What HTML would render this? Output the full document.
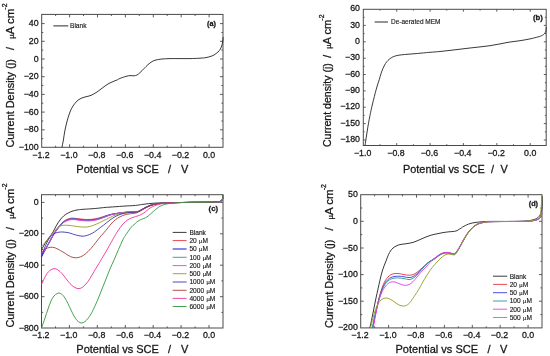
<!DOCTYPE html>
<html><head><meta charset="utf-8"><title>Figure</title>
<style>html,body{margin:0;padding:0;background:#fff;overflow:hidden}svg{display:block}</style></head>
<body>
<svg width="550" height="356" viewBox="0 0 550 356">
<style>text{font-family:"Liberation Sans",sans-serif;stroke:#222;stroke-width:0.28px;paint-order:stroke}.lg{stroke-width:0.14px}</style>
<g stroke="#4a4a4a" stroke-width="1" fill="none">
<rect x="41.7" y="14.4" width="181.3" height="132.9"/>
<path d="M69.6,147.3 L69.6,144.3M69.6,14.4 L69.6,17.4M97.5,147.3 L97.5,144.3M97.5,14.4 L97.5,17.4M125.4,147.3 L125.4,144.3M125.4,14.4 L125.4,17.4M153.3,147.3 L153.3,144.3M153.3,14.4 L153.3,17.4M181.2,147.3 L181.2,144.3M181.2,14.4 L181.2,17.4M209.1,147.3 L209.1,144.3M209.1,14.4 L209.1,17.4M55.6,147.3 L55.6,145.7M55.6,14.4 L55.6,16.0M83.5,147.3 L83.5,145.7M83.5,14.4 L83.5,16.0M111.4,147.3 L111.4,145.7M111.4,14.4 L111.4,16.0M139.3,147.3 L139.3,145.7M139.3,14.4 L139.3,16.0M167.2,147.3 L167.2,145.7M167.2,14.4 L167.2,16.0M195.1,147.3 L195.1,145.7M195.1,14.4 L195.1,16.0M41.7,23.6 L44.7,23.6M223.0,23.6 L220.0,23.6M41.7,41.3 L44.7,41.3M223.0,41.3 L220.0,41.3M41.7,59.0 L44.7,59.0M223.0,59.0 L220.0,59.0M41.7,76.7 L44.7,76.7M223.0,76.7 L220.0,76.7M41.7,94.4 L44.7,94.4M223.0,94.4 L220.0,94.4M41.7,112.1 L44.7,112.1M223.0,112.1 L220.0,112.1M41.7,129.8 L44.7,129.8M223.0,129.8 L220.0,129.8M41.7,32.5 L43.3,32.5M223.0,32.5 L221.4,32.5M41.7,50.1 L43.3,50.1M223.0,50.1 L221.4,50.1M41.7,67.8 L43.3,67.8M223.0,67.8 L221.4,67.8M41.7,85.5 L43.3,85.5M223.0,85.5 L221.4,85.5M41.7,103.2 L43.3,103.2M223.0,103.2 L221.4,103.2M41.7,121.0 L43.3,121.0M223.0,121.0 L221.4,121.0M41.7,138.7 L43.3,138.7M223.0,138.7 L221.4,138.7" stroke-width="0.9"/>
</g>
<g font-size="8.8" fill="#161616" text-anchor="middle">
<text x="41.0" y="157.6">−1.2</text>
<text x="68.9" y="157.6">−1.0</text>
<text x="96.8" y="157.6">−0.8</text>
<text x="124.7" y="157.6">−0.6</text>
<text x="152.6" y="157.6">−0.4</text>
<text x="180.5" y="157.6">−0.2</text>
<text x="209.1" y="157.6">0.0</text>
</g>
<g font-size="8.8" fill="#161616" text-anchor="end">
<text x="38.6" y="26.1">40</text>
<text x="38.6" y="43.8">20</text>
<text x="38.6" y="61.5">0</text>
<text x="38.6" y="79.2">−20</text>
<text x="38.6" y="96.9">−40</text>
<text x="38.6" y="114.6">−60</text>
<text x="38.6" y="132.3">−80</text>
<text x="38.6" y="150.0">−100</text>
</g>
<path d="M62.0,147.3C62.2,146.1 62.9,142.9 63.4,140.0C63.9,137.1 64.3,133.3 65.0,130.0C65.7,126.7 66.6,123.0 67.4,120.0C68.2,117.0 69.1,114.3 70.0,112.0C70.9,109.7 71.8,107.8 73.0,106.0C74.2,104.2 75.7,102.3 77.0,101.0C78.3,99.7 79.7,99.1 81.0,98.4C82.3,97.7 83.7,97.4 85.0,97.0C86.3,96.6 87.7,96.4 89.0,96.0C90.3,95.6 91.7,95.1 93.0,94.4C94.3,93.7 95.7,92.9 97.0,92.0C98.3,91.1 99.7,90.0 101.0,89.0C102.3,88.0 103.7,86.9 105.0,86.0C106.3,85.1 107.7,84.1 109.0,83.4C110.3,82.7 111.7,82.2 113.0,81.6C114.3,81.0 115.8,80.5 117.0,80.0C118.2,79.5 118.5,79.0 120.0,78.4C121.5,77.8 124.3,76.9 126.0,76.4C127.7,75.9 128.7,75.7 130.0,75.6C131.3,75.5 132.8,75.9 134.0,75.8C135.2,75.7 136.0,75.5 137.0,75.0C138.0,74.5 138.8,73.7 140.0,72.6C141.2,71.5 142.7,69.9 144.0,68.6C145.3,67.3 146.7,65.8 148.0,64.6C149.3,63.4 150.7,62.4 152.0,61.6C153.3,60.8 154.3,60.4 156.0,60.0C157.7,59.6 159.7,59.2 162.0,59.0C164.3,58.8 167.0,58.7 170.0,58.6C173.0,58.5 176.7,58.6 180.0,58.6C183.3,58.6 186.7,58.7 190.0,58.6C193.3,58.5 197.3,58.4 200.0,58.2C202.7,58.0 204.3,57.9 206.0,57.6C207.7,57.3 208.7,57.0 210.0,56.6C211.3,56.2 212.7,55.8 214.0,55.0C215.3,54.2 216.9,53.0 218.0,52.0C219.1,51.0 219.7,50.2 220.4,49.0C221.1,47.8 221.6,46.3 222.0,45.0C222.4,43.7 222.6,42.3 222.8,41.0C223.0,39.7 223.0,37.7 223.0,37.0" stroke="#222" stroke-width="0.90" fill="none" stroke-linejoin="round"/>
<path d="M53.4,25.9 H68.3" stroke="#2a2a2a" stroke-width="1"/>
<text x="70" y="27.9" font-size="6.6" class="lg" fill="#161616">Blank</text>
<text x="211.5" y="26.4" font-size="7.3" font-weight="bold" fill="#161616" text-anchor="middle">(a)</text>
<g font-size="11.0" fill="#161616">
<text x="76.3" y="172.6">Potential vs SCE</text>
<text x="169.6" y="172.6" text-anchor="middle">/</text>
<text x="181.0" y="172.6">V</text>
</g>
<g font-size="10.9" fill="#161616">
<text transform="translate(14.0,147.6) rotate(-90)">Current Density (j)</text>
<text transform="translate(14.0,48.6) rotate(-90)" text-anchor="middle">/</text>
<text transform="translate(14.0,38.8) rotate(-90)"><tspan font-size="7.8">µ</tspan><tspan font-size="11.5">A cm</tspan><tspan font-size="7" dy="-6.8" dx="-0.9">-2</tspan></text>
</g>
<g stroke="#4a4a4a" stroke-width="1" fill="none">
<rect x="363.3" y="9.3" width="182.9" height="136.2"/>
<path d="M396.7,145.5 L396.7,143.1M396.7,9.3 L396.7,11.7M430.1,145.5 L430.1,143.1M430.1,9.3 L430.1,11.7M463.4,145.5 L463.4,143.1M463.4,9.3 L463.4,11.7M496.8,145.5 L496.8,143.1M496.8,9.3 L496.8,11.7M530.2,145.5 L530.2,143.1M530.2,9.3 L530.2,11.7M380.0,145.5 L380.0,144.2M380.0,9.3 L380.0,10.6M413.4,145.5 L413.4,144.2M413.4,9.3 L413.4,10.6M446.8,145.5 L446.8,144.2M446.8,9.3 L446.8,10.6M480.1,145.5 L480.1,144.2M480.1,9.3 L480.1,10.6M513.5,145.5 L513.5,144.2M513.5,9.3 L513.5,10.6M363.3,25.4 L365.7,25.4M546.2,25.4 L543.8,25.4M363.3,41.8 L365.7,41.8M546.2,41.8 L543.8,41.8M363.3,58.2 L365.7,58.2M546.2,58.2 L543.8,58.2M363.3,74.5 L365.7,74.5M546.2,74.5 L543.8,74.5M363.3,90.9 L365.7,90.9M546.2,90.9 L543.8,90.9M363.3,107.2 L365.7,107.2M546.2,107.2 L543.8,107.2M363.3,123.6 L365.7,123.6M546.2,123.6 L543.8,123.6M363.3,140.0 L365.7,140.0M546.2,140.0 L543.8,140.0M363.3,17.3 L364.6,17.3M546.2,17.3 L544.9,17.3M363.3,33.6 L364.6,33.6M546.2,33.6 L544.9,33.6M363.3,50.0 L364.6,50.0M546.2,50.0 L544.9,50.0M363.3,66.3 L364.6,66.3M546.2,66.3 L544.9,66.3M363.3,82.7 L364.6,82.7M546.2,82.7 L544.9,82.7M363.3,99.1 L364.6,99.1M546.2,99.1 L544.9,99.1M363.3,115.4 L364.6,115.4M546.2,115.4 L544.9,115.4M363.3,131.8 L364.6,131.8M546.2,131.8 L544.9,131.8" stroke-width="0.9"/>
</g>
<g font-size="8.8" fill="#161616" text-anchor="middle">
<text x="362.6" y="155.9">−1.0</text>
<text x="396.0" y="155.9">−0.8</text>
<text x="429.4" y="155.9">−0.6</text>
<text x="462.7" y="155.9">−0.4</text>
<text x="496.1" y="155.9">−0.2</text>
<text x="530.2" y="155.9">0.0</text>
</g>
<g font-size="8.8" fill="#161616" text-anchor="end">
<text x="360.0" y="11.2">60</text>
<text x="360.0" y="27.5">30</text>
<text x="360.0" y="43.9">0</text>
<text x="360.0" y="60.3">−30</text>
<text x="360.0" y="76.6">−60</text>
<text x="360.0" y="93.0">−90</text>
<text x="360.0" y="109.3">−120</text>
<text x="360.0" y="125.7">−150</text>
<text x="360.0" y="142.1">−180</text>
</g>
<path d="M365.0,145.5C365.3,143.8 366.1,138.4 366.6,135.0C367.1,131.6 367.6,128.4 368.2,125.0C368.8,121.6 369.6,117.3 370.2,114.4C370.8,111.5 371.2,109.7 371.7,107.4C372.2,105.1 372.8,102.9 373.4,100.4C374.0,98.0 374.7,95.1 375.3,92.7C375.9,90.3 376.6,88.2 377.2,86.0C377.8,83.8 378.6,81.8 379.2,79.8C379.8,77.8 380.4,75.6 381.0,73.7C381.6,71.8 382.1,70.3 382.9,68.6C383.6,66.9 384.6,64.9 385.5,63.5C386.4,62.1 387.1,61.4 388.0,60.4C388.9,59.4 390.1,58.5 391.2,57.8C392.3,57.1 393.2,56.7 394.4,56.3C395.6,55.9 396.5,55.6 398.2,55.3C399.9,55.0 402.4,54.7 404.5,54.5C406.6,54.3 408.8,54.2 410.9,54.0C413.0,53.8 415.2,53.7 417.3,53.5C419.4,53.3 421.5,53.1 423.6,52.9C425.7,52.7 427.3,52.5 430.0,52.3C432.7,52.1 436.7,51.8 440.0,51.5C443.3,51.2 446.7,50.8 450.0,50.4C453.3,50.0 456.7,49.6 460.0,49.2C463.3,48.8 466.7,48.4 470.0,48.0C473.3,47.6 476.7,47.3 480.0,46.9C483.3,46.5 486.7,46.2 490.0,45.7C493.3,45.2 496.7,44.5 500.0,43.9C503.3,43.3 506.7,42.5 510.0,42.0C513.3,41.5 516.7,41.2 520.0,40.7C523.3,40.2 527.0,39.5 530.0,38.9C533.0,38.3 536.1,37.4 538.0,36.9C539.9,36.4 540.5,36.2 541.4,35.8C542.3,35.4 543.0,35.0 543.6,34.5C544.2,34.0 544.7,33.5 545.1,32.8C545.5,32.1 545.8,31.4 546.0,30.4C546.2,29.4 546.2,27.6 546.3,27.0" stroke="#222" stroke-width="0.90" fill="none" stroke-linejoin="round"/>
<path d="M374.6,22 H388" stroke="#2a2a2a" stroke-width="1"/>
<text x="391" y="24.3" font-size="6.5" class="lg" fill="#161616">De-aerated MEM</text>
<text x="538" y="20.2" font-size="7.8" font-weight="bold" fill="#161616" text-anchor="middle">(b)</text>
<g stroke="#4a4a4a" stroke-width="1" fill="none">
<rect x="41.5" y="194.7" width="181.5" height="133.3"/>
<path d="M69.4,328.0 L69.4,325.0M69.4,194.7 L69.4,197.7M97.3,328.0 L97.3,325.0M97.3,194.7 L97.3,197.7M125.3,328.0 L125.3,325.0M125.3,194.7 L125.3,197.7M153.2,328.0 L153.2,325.0M153.2,194.7 L153.2,197.7M181.1,328.0 L181.1,325.0M181.1,194.7 L181.1,197.7M209.0,328.0 L209.0,325.0M209.0,194.7 L209.0,197.7M55.5,328.0 L55.5,326.4M55.5,194.7 L55.5,196.3M83.4,328.0 L83.4,326.4M83.4,194.7 L83.4,196.3M111.3,328.0 L111.3,326.4M111.3,194.7 L111.3,196.3M139.2,328.0 L139.2,326.4M139.2,194.7 L139.2,196.3M167.2,328.0 L167.2,326.4M167.2,194.7 L167.2,196.3M195.1,328.0 L195.1,326.4M195.1,194.7 L195.1,196.3M41.5,202.4 L44.5,202.4M223.0,202.4 L220.0,202.4M41.5,233.8 L44.5,233.8M223.0,233.8 L220.0,233.8M41.5,265.2 L44.5,265.2M223.0,265.2 L220.0,265.2M41.5,296.7 L44.5,296.7M223.0,296.7 L220.0,296.7M41.5,218.1 L43.1,218.1M223.0,218.1 L221.4,218.1M41.5,249.5 L43.1,249.5M223.0,249.5 L221.4,249.5M41.5,280.9 L43.1,280.9M223.0,280.9 L221.4,280.9M41.5,312.4 L43.1,312.4M223.0,312.4 L221.4,312.4" stroke-width="0.9"/>
</g>
<g font-size="8.8" fill="#161616" text-anchor="middle">
<text x="40.8" y="337.7">−1.2</text>
<text x="68.7" y="337.7">−1.0</text>
<text x="96.6" y="337.7">−0.8</text>
<text x="124.6" y="337.7">−0.6</text>
<text x="152.5" y="337.7">−0.4</text>
<text x="180.4" y="337.7">−0.2</text>
<text x="209.0" y="337.7">0.0</text>
</g>
<g font-size="8.8" fill="#161616" text-anchor="end">
<text x="38.6" y="204.9">0</text>
<text x="38.6" y="236.3">−200</text>
<text x="38.6" y="267.7">−400</text>
<text x="38.6" y="299.2">−600</text>
<text x="38.6" y="330.6">−800</text>
</g>
<g stroke="#4a4a4a" stroke-width="1" fill="none">
<rect x="360.7" y="194.7" width="181.3" height="133.2"/>
<path d="M388.6,327.9 L388.6,324.9M388.6,194.7 L388.6,197.7M416.5,327.9 L416.5,324.9M416.5,194.7 L416.5,197.7M444.4,327.9 L444.4,324.9M444.4,194.7 L444.4,197.7M472.3,327.9 L472.3,324.9M472.3,194.7 L472.3,197.7M500.2,327.9 L500.2,324.9M500.2,194.7 L500.2,197.7M528.1,327.9 L528.1,324.9M528.1,194.7 L528.1,197.7M374.6,327.9 L374.6,326.3M374.6,194.7 L374.6,196.3M402.5,327.9 L402.5,326.3M402.5,194.7 L402.5,196.3M430.4,327.9 L430.4,326.3M430.4,194.7 L430.4,196.3M458.3,327.9 L458.3,326.3M458.3,194.7 L458.3,196.3M486.2,327.9 L486.2,326.3M486.2,194.7 L486.2,196.3M514.1,327.9 L514.1,326.3M514.1,194.7 L514.1,196.3M360.7,221.3 L363.7,221.3M542.0,221.3 L539.0,221.3M360.7,248.0 L363.7,248.0M542.0,248.0 L539.0,248.0M360.7,274.6 L363.7,274.6M542.0,274.6 L539.0,274.6M360.7,301.2 L363.7,301.2M542.0,301.2 L539.0,301.2M360.7,208.0 L362.3,208.0M542.0,208.0 L540.4,208.0M360.7,234.6 L362.3,234.6M542.0,234.6 L540.4,234.6M360.7,261.3 L362.3,261.3M542.0,261.3 L540.4,261.3M360.7,287.9 L362.3,287.9M542.0,287.9 L540.4,287.9M360.7,314.6 L362.3,314.6M542.0,314.6 L540.4,314.6" stroke-width="0.9"/>
</g>
<g font-size="8.8" fill="#161616" text-anchor="middle">
<text x="360.0" y="337.8">−1.2</text>
<text x="387.9" y="337.8">−1.0</text>
<text x="415.8" y="337.8">−0.8</text>
<text x="443.7" y="337.8">−0.6</text>
<text x="471.6" y="337.8">−0.4</text>
<text x="499.5" y="337.8">−0.2</text>
<text x="528.1" y="337.8">0.0</text>
</g>
<g font-size="8.8" fill="#161616" text-anchor="end">
<text x="357.8" y="197.2">50</text>
<text x="357.8" y="223.8">0</text>
<text x="357.8" y="250.5">−50</text>
<text x="357.8" y="277.1">−100</text>
<text x="357.8" y="303.8">−150</text>
<text x="357.8" y="330.4">−200</text>
</g>
<path d="M41.6,249.5C42.2,248.5 43.8,245.5 45.0,243.5C46.2,241.5 47.7,239.6 49.0,237.7C50.3,235.8 51.8,234.0 53.0,232.0C54.2,230.0 55.1,227.9 56.2,225.9C57.4,223.9 58.7,221.7 59.9,220.1C61.1,218.5 62.3,217.2 63.5,216.1C64.7,215.0 66.0,214.2 67.2,213.5C68.4,212.8 69.6,212.2 70.8,211.7C72.0,211.2 73.3,210.8 74.5,210.5C75.7,210.2 76.8,210.0 78.0,209.8C79.2,209.6 79.8,209.6 82.0,209.4C84.2,209.2 88.4,209.0 90.9,208.8C93.5,208.6 95.2,208.5 97.3,208.3C99.4,208.1 101.5,207.8 103.6,207.6C105.7,207.4 106.8,207.3 110.0,207.1C113.2,206.9 118.5,206.5 122.7,206.2C127.0,205.9 132.3,205.7 135.5,205.4C138.7,205.1 139.7,204.8 141.8,204.5C143.9,204.2 146.1,203.9 148.2,203.7C150.3,203.5 152.4,203.2 154.5,203.1C156.6,203.0 157.5,203.0 160.9,202.9C164.3,202.8 170.2,202.7 175.0,202.6C179.8,202.5 184.2,202.5 190.0,202.4C195.8,202.3 205.5,202.3 210.0,202.2C214.5,202.1 215.3,202.1 217.0,202.0C218.7,201.9 219.2,201.8 220.0,201.5C220.8,201.2 221.3,200.9 221.7,200.5C222.1,200.1 222.4,199.7 222.6,198.8C222.8,197.9 222.9,195.6 223.0,195.0" stroke="#222222" stroke-width="0.90" fill="none" stroke-linejoin="round"/>
<path d="M41.5,256.0C42.1,255.0 43.8,252.2 45.0,250.0C46.2,247.8 47.7,245.2 49.0,242.8C50.3,240.4 51.7,237.8 53.0,235.5C54.3,233.2 55.8,231.0 57.0,229.3C58.2,227.6 58.9,226.8 60.0,225.5C61.1,224.2 62.3,222.7 63.5,221.6C64.7,220.6 65.8,219.9 67.2,219.3C68.6,218.7 70.0,218.2 71.8,218.1C73.6,218.0 76.1,218.5 78.2,218.7C80.3,218.9 82.4,219.3 84.5,219.4C86.6,219.5 88.8,219.6 90.9,219.4C93.0,219.2 95.2,218.9 97.3,218.4C99.4,217.9 101.5,217.2 103.6,216.6C105.7,216.0 107.9,215.1 110.0,214.6C112.1,214.1 114.3,213.8 116.4,213.5C118.5,213.2 120.6,212.8 122.7,212.6C124.8,212.3 126.9,212.1 129.0,212.0C131.1,211.9 133.9,212.0 135.5,211.9C137.1,211.8 137.5,211.7 138.6,211.3C139.7,210.9 140.7,210.2 141.8,209.6C142.9,209.0 143.9,208.3 145.0,207.7C146.1,207.1 147.0,206.7 148.2,206.2C149.4,205.7 150.7,205.2 152.0,204.8C153.3,204.4 154.3,204.2 155.8,203.9C157.3,203.7 159.0,203.5 160.9,203.3C162.8,203.1 165.0,203.0 167.3,202.9C169.7,202.8 171.2,202.7 175.0,202.6C178.8,202.5 184.2,202.5 190.0,202.4C195.8,202.3 205.5,202.3 210.0,202.2C214.5,202.1 215.3,202.1 217.0,202.0C218.7,201.9 219.2,201.8 220.0,201.5C220.8,201.2 221.3,200.9 221.7,200.5C222.1,200.1 222.4,199.4 222.6,198.8C222.8,198.2 222.9,197.3 223.0,197.0" stroke="#e8323c" stroke-width="0.90" fill="none" stroke-linejoin="round"/>
<path d="M41.5,257.0C42.1,255.8 43.8,252.4 45.0,250.0C46.2,247.6 47.7,245.2 49.0,242.8C50.3,240.4 51.7,237.8 53.0,235.5C54.3,233.2 55.8,230.9 57.0,229.3C58.2,227.7 58.9,226.9 60.0,225.7C61.1,224.5 62.3,222.9 63.5,222.0C64.7,221.0 65.8,220.4 67.2,219.9C68.6,219.4 70.0,218.8 71.8,218.7C73.6,218.6 76.1,219.1 78.2,219.3C80.3,219.5 82.4,219.9 84.5,220.0C86.6,220.1 88.8,220.2 90.9,220.0C93.0,219.8 95.2,219.5 97.3,219.0C99.4,218.5 101.5,217.7 103.6,217.0C105.7,216.3 107.9,215.4 110.0,214.8C112.1,214.2 114.3,213.9 116.4,213.5C118.5,213.1 120.6,212.8 122.7,212.6C124.8,212.3 126.9,212.1 129.0,212.0C131.1,211.9 133.9,212.0 135.5,211.9C137.1,211.8 137.5,211.7 138.6,211.3C139.7,210.9 140.7,210.2 141.8,209.6C142.9,209.0 143.9,208.3 145.0,207.7C146.1,207.1 147.0,206.7 148.2,206.2C149.4,205.7 150.7,205.2 152.0,204.8C153.3,204.4 154.3,204.2 155.8,203.9C157.3,203.7 159.0,203.5 160.9,203.3C162.8,203.1 165.0,203.0 167.3,202.9C169.7,202.8 171.2,202.7 175.0,202.6C178.8,202.5 184.2,202.5 190.0,202.4C195.8,202.3 205.5,202.3 210.0,202.2C214.5,202.1 215.3,202.1 217.0,202.0C218.7,201.9 219.2,201.8 220.0,201.5C220.8,201.2 221.3,200.9 221.7,200.5C222.1,200.1 222.4,199.4 222.6,198.8C222.8,198.2 222.9,197.3 223.0,197.0" stroke="#3a3ae0" stroke-width="1.10" fill="none" stroke-linejoin="round"/>
<path d="M41.5,255.0C42.1,254.2 43.8,252.0 45.0,250.0C46.2,248.0 47.7,245.2 49.0,242.8C50.3,240.4 51.7,237.8 53.0,235.5C54.3,233.2 55.8,230.9 57.0,229.3C58.2,227.7 58.9,227.0 60.0,225.8C61.1,224.6 62.3,223.1 63.5,222.2C64.7,221.3 65.8,220.8 67.2,220.3C68.6,219.8 70.0,219.2 71.8,219.1C73.6,219.0 76.1,219.5 78.2,219.7C80.3,219.9 82.4,220.3 84.5,220.4C86.6,220.5 88.8,220.6 90.9,220.4C93.0,220.2 95.2,219.9 97.3,219.4C99.4,218.9 101.5,218.0 103.6,217.3C105.7,216.6 107.9,215.6 110.0,215.0C112.1,214.3 114.3,213.9 116.4,213.5C118.5,213.1 120.6,212.8 122.7,212.6C124.8,212.3 126.9,212.1 129.0,212.0C131.1,211.9 133.9,212.0 135.5,211.9C137.1,211.8 137.5,211.7 138.6,211.3C139.7,210.9 140.7,210.2 141.8,209.6C142.9,209.0 143.9,208.3 145.0,207.7C146.1,207.1 147.0,206.7 148.2,206.2C149.4,205.7 150.7,205.2 152.0,204.8C153.3,204.4 154.3,204.2 155.8,203.9C157.3,203.7 159.0,203.5 160.9,203.3C162.8,203.1 165.0,203.0 167.3,202.9C169.7,202.8 171.2,202.7 175.0,202.6C178.8,202.5 184.2,202.5 190.0,202.4C195.8,202.3 205.5,202.3 210.0,202.2C214.5,202.1 215.3,202.1 217.0,202.0C218.7,201.9 219.2,201.8 220.0,201.5C220.8,201.2 221.3,200.9 221.7,200.5C222.1,200.1 222.4,199.4 222.6,198.8C222.8,198.2 222.9,197.3 223.0,197.0" stroke="#2a9696" stroke-width="0.90" fill="none" stroke-linejoin="round"/>
<path d="M41.5,253.0C42.1,252.5 43.8,251.7 45.0,250.0C46.2,248.3 47.7,245.2 49.0,242.8C50.3,240.4 51.7,237.8 53.0,235.5C54.3,233.2 55.8,230.9 57.0,229.3C58.2,227.7 58.9,227.1 60.0,225.9C61.1,224.8 62.3,223.3 63.5,222.5C64.7,221.6 65.8,221.2 67.2,220.7C68.6,220.2 70.0,219.6 71.8,219.5C73.6,219.4 76.1,219.9 78.2,220.1C80.3,220.3 82.4,220.7 84.5,220.8C86.6,220.9 88.8,221.0 90.9,220.8C93.0,220.6 95.2,220.3 97.3,219.8C99.4,219.3 101.5,218.3 103.6,217.6C105.7,216.8 107.9,215.8 110.0,215.1C112.1,214.5 114.3,213.9 116.4,213.5C118.5,213.1 120.6,212.8 122.7,212.6C124.8,212.3 126.9,212.1 129.0,212.0C131.1,211.9 133.9,212.0 135.5,211.9C137.1,211.8 137.5,211.7 138.6,211.3C139.7,210.9 140.7,210.2 141.8,209.6C142.9,209.0 143.9,208.3 145.0,207.7C146.1,207.1 147.0,206.7 148.2,206.2C149.4,205.7 150.7,205.2 152.0,204.8C153.3,204.4 154.3,204.2 155.8,203.9C157.3,203.7 159.0,203.5 160.9,203.3C162.8,203.1 165.0,203.0 167.3,202.9C169.7,202.8 171.2,202.7 175.0,202.6C178.8,202.5 184.2,202.5 190.0,202.4C195.8,202.3 205.5,202.3 210.0,202.2C214.5,202.1 215.3,202.1 217.0,202.0C218.7,201.9 219.2,201.8 220.0,201.5C220.8,201.2 221.3,200.9 221.7,200.5C222.1,200.1 222.4,199.4 222.6,198.8C222.8,198.2 222.9,197.3 223.0,197.0" stroke="#e83ce8" stroke-width="0.90" fill="none" stroke-linejoin="round"/>
<path d="M41.5,246.6C42.1,245.9 43.8,244.0 45.0,242.5C46.2,241.0 47.8,238.9 49.0,237.5C50.2,236.1 51.0,235.0 52.0,233.8C53.0,232.6 54.1,231.4 55.3,230.2C56.5,229.0 57.8,227.4 59.1,226.6C60.4,225.8 61.4,225.5 62.9,225.3C64.4,225.1 66.1,225.2 68.0,225.3C69.9,225.4 72.3,225.8 74.4,226.1C76.5,226.4 78.6,226.8 80.7,226.9C82.8,227.1 85.0,227.3 87.1,227.0C89.2,226.7 91.4,226.1 93.5,225.3C95.6,224.6 97.7,223.5 99.8,222.5C101.9,221.5 104.5,220.2 106.2,219.4C107.9,218.6 108.4,218.3 110.0,217.5C111.6,216.7 114.0,215.5 116.0,214.8C118.0,214.1 119.8,213.6 122.0,213.2C124.2,212.8 126.8,212.5 129.0,212.3C131.2,212.1 133.9,212.2 135.5,212.0C137.1,211.8 137.5,211.8 138.6,211.4C139.7,211.0 140.7,210.3 141.8,209.7C142.9,209.1 143.9,208.4 145.0,207.8C146.1,207.2 147.0,206.8 148.2,206.3C149.4,205.8 150.7,205.3 152.0,204.9C153.3,204.5 154.3,204.3 155.8,204.0C157.3,203.7 159.0,203.5 160.9,203.3C162.8,203.1 165.0,203.0 167.3,202.9C169.7,202.8 171.2,202.7 175.0,202.6C178.8,202.5 184.2,202.5 190.0,202.4C195.8,202.3 205.5,202.3 210.0,202.2C214.5,202.1 215.3,202.1 217.0,202.0C218.7,201.9 219.2,201.8 220.0,201.5C220.8,201.2 221.3,200.9 221.7,200.5C222.1,200.1 222.4,199.4 222.6,198.8C222.8,198.2 222.9,197.3 223.0,197.0" stroke="#9a9a28" stroke-width="0.90" fill="none" stroke-linejoin="round"/>
<path d="M41.3,256.8C41.9,255.1 43.8,249.6 45.1,246.6C46.4,243.6 47.6,241.0 48.9,239.0C50.2,237.0 51.2,235.6 52.7,234.5C54.2,233.4 56.1,232.8 57.8,232.4C59.5,232.0 61.0,231.9 62.9,232.0C64.8,232.1 67.2,232.4 69.3,232.9C71.4,233.4 73.5,234.4 75.6,234.9C77.7,235.4 80.1,236.1 82.0,236.2C83.9,236.3 85.4,235.9 87.1,235.4C88.8,234.9 90.5,234.2 92.2,233.3C93.9,232.4 95.4,231.2 97.3,229.8C99.2,228.4 101.5,226.7 103.6,225.1C105.7,223.5 107.9,221.5 110.0,220.0C112.1,218.5 114.0,217.2 116.0,216.2C118.0,215.2 119.8,214.5 122.0,213.9C124.2,213.3 126.8,212.9 129.0,212.6C131.2,212.3 133.9,212.3 135.5,212.1C137.1,211.9 137.5,211.9 138.6,211.5C139.7,211.1 140.7,210.4 141.8,209.8C142.9,209.2 143.9,208.5 145.0,207.9C146.1,207.3 147.0,206.9 148.2,206.4C149.4,205.9 150.7,205.4 152.0,205.0C153.3,204.6 154.3,204.3 155.8,204.0C157.3,203.7 159.0,203.5 160.9,203.3C162.8,203.1 165.0,203.0 167.3,202.9C169.7,202.8 171.2,202.7 175.0,202.6C178.8,202.5 184.2,202.5 190.0,202.4C195.8,202.3 205.5,202.3 210.0,202.2C214.5,202.1 215.3,202.1 217.0,202.0C218.7,201.9 219.2,201.8 220.0,201.5C220.8,201.2 221.3,200.9 221.7,200.5C222.1,200.1 222.4,199.4 222.6,198.8C222.8,198.2 222.9,197.3 223.0,197.0" stroke="#3838b0" stroke-width="0.90" fill="none" stroke-linejoin="round"/>
<path d="M41.3,252.4C41.9,251.9 43.6,250.0 45.1,249.2C46.6,248.3 48.5,247.5 50.2,247.3C51.9,247.1 53.6,247.4 55.3,247.9C57.0,248.4 58.7,249.6 60.4,250.5C62.1,251.4 63.8,252.6 65.5,253.6C67.2,254.6 68.8,255.9 70.5,256.6C72.2,257.3 73.9,257.8 75.6,257.8C77.3,257.8 79.0,257.5 80.7,256.8C82.4,256.1 84.1,255.0 85.8,253.6C87.5,252.2 89.2,250.4 90.9,248.5C92.6,246.6 94.3,244.3 96.0,242.2C97.7,240.1 99.4,237.8 101.1,235.8C102.8,233.8 104.7,231.9 106.2,230.1C107.7,228.3 108.7,226.7 110.0,225.2C111.3,223.7 112.5,222.3 113.8,221.1C115.1,219.9 116.1,219.1 117.6,218.2C119.1,217.3 121.0,216.3 122.7,215.6C124.4,214.9 126.1,214.4 127.8,214.1C129.5,213.8 131.4,213.7 132.9,213.5C134.4,213.3 135.4,213.2 136.7,212.8C138.0,212.4 139.2,211.6 140.5,210.9C141.8,210.2 143.1,209.4 144.4,208.7C145.7,208.0 146.9,207.3 148.2,206.7C149.5,206.1 150.7,205.6 152.0,205.2C153.3,204.8 154.3,204.5 155.8,204.2C157.3,203.9 159.0,203.6 160.9,203.4C162.8,203.2 165.0,203.0 167.3,202.9C169.7,202.8 171.2,202.7 175.0,202.6C178.8,202.5 184.2,202.5 190.0,202.4C195.8,202.3 205.5,202.3 210.0,202.2C214.5,202.1 215.3,202.1 217.0,202.0C218.7,201.9 219.2,201.8 220.0,201.5C220.8,201.2 221.3,200.9 221.7,200.5C222.1,200.1 222.4,199.4 222.6,198.8C222.8,198.2 222.9,197.3 223.0,197.0" stroke="#a83c3c" stroke-width="0.90" fill="none" stroke-linejoin="round"/>
<path d="M41.6,284.4C42.0,283.5 43.1,280.8 44.0,279.0C44.9,277.2 46.0,275.0 47.0,273.6C48.0,272.2 48.8,271.2 50.0,270.4C51.2,269.6 52.7,268.7 54.0,268.6C55.3,268.5 56.7,269.2 58.0,270.0C59.3,270.8 60.7,272.2 62.0,273.6C63.3,275.0 64.7,276.9 66.0,278.6C67.3,280.3 68.7,282.2 70.0,283.6C71.3,285.0 72.7,286.2 74.0,287.0C75.3,287.8 76.7,288.5 78.0,288.6C79.3,288.7 80.7,288.4 82.0,287.6C83.3,286.8 84.7,285.5 86.0,284.0C87.3,282.5 88.7,280.5 90.0,278.4C91.3,276.3 92.7,273.8 94.0,271.6C95.3,269.4 96.8,266.9 98.0,265.0C99.2,263.1 99.7,262.2 101.0,260.0C102.3,257.8 104.1,254.8 106.0,251.5C107.9,248.2 110.8,243.1 112.5,240.0C114.2,236.9 115.1,235.3 116.4,233.2C117.7,231.1 118.9,229.2 120.2,227.5C121.5,225.8 122.7,224.3 124.0,223.0C125.3,221.7 126.5,220.7 127.8,219.8C129.1,219.0 130.3,218.4 131.6,217.9C132.9,217.4 134.2,217.0 135.5,216.6C136.8,216.2 138.0,215.9 139.3,215.4C140.6,214.9 141.8,214.3 143.1,213.5C144.4,212.7 145.6,211.5 146.9,210.5C148.2,209.5 149.4,208.5 150.7,207.7C152.0,206.9 153.2,206.3 154.5,205.8C155.8,205.3 156.9,204.9 158.4,204.5C159.9,204.1 161.6,203.8 163.5,203.5C165.4,203.2 167.4,203.2 169.8,203.0C172.2,202.8 174.6,202.7 178.0,202.6C181.4,202.5 184.7,202.5 190.0,202.4C195.3,202.3 205.5,202.3 210.0,202.2C214.5,202.1 215.3,202.1 217.0,202.0C218.7,201.9 219.2,201.8 220.0,201.5C220.8,201.2 221.3,200.9 221.7,200.5C222.1,200.1 222.4,199.6 222.6,198.8C222.8,198.1 222.9,196.5 223.0,196.0" stroke="#f0329a" stroke-width="0.90" fill="none" stroke-linejoin="round"/>
<path d="M41.6,328.0C42.2,326.3 43.9,321.2 45.0,318.0C46.1,314.8 47.0,311.8 48.0,309.0C49.0,306.2 50.0,303.2 51.0,301.0C52.0,298.8 53.0,297.2 54.0,296.0C55.0,294.8 56.2,294.1 57.0,293.6C57.8,293.1 58.2,292.9 59.0,293.0C59.8,293.1 61.0,293.6 62.0,294.4C63.0,295.2 64.0,296.5 65.0,298.0C66.0,299.5 67.0,301.6 68.0,303.6C69.0,305.6 70.0,307.9 71.0,310.0C72.0,312.1 73.0,314.3 74.0,316.0C75.0,317.7 76.0,319.3 77.0,320.4C78.0,321.5 79.2,322.2 80.0,322.6C80.8,323.0 81.2,323.2 82.0,323.0C82.8,322.8 84.0,322.4 85.0,321.6C86.0,320.8 87.0,319.7 88.0,318.4C89.0,317.1 90.0,315.7 91.0,314.0C92.0,312.3 92.8,310.5 94.0,308.0C95.2,305.5 96.7,302.2 98.0,299.0C99.3,295.8 100.7,292.3 102.0,289.0C103.3,285.7 104.7,282.3 106.0,279.0C107.3,275.7 108.7,272.2 110.0,269.0C111.3,265.8 112.6,263.2 114.0,260.0C115.4,256.8 117.0,252.8 118.5,249.5C120.0,246.2 121.6,242.3 122.7,240.0C123.8,237.7 124.5,237.0 125.3,235.7C126.1,234.3 126.9,233.1 127.8,231.9C128.7,230.7 129.6,229.4 130.4,228.3C131.2,227.2 132.1,226.3 132.9,225.5C133.8,224.7 134.7,224.0 135.5,223.3C136.3,222.6 136.9,221.8 138.0,221.1C139.1,220.4 140.5,219.8 141.8,219.2C143.1,218.6 144.5,218.2 145.6,217.7C146.7,217.2 147.3,216.7 148.2,216.0C149.0,215.3 149.8,214.6 150.7,213.8C151.5,213.1 152.5,212.2 153.3,211.5C154.2,210.8 155.0,210.0 155.8,209.3C156.7,208.6 157.6,207.9 158.4,207.3C159.2,206.7 159.9,206.4 160.9,205.9C161.9,205.4 163.4,204.9 164.7,204.5C166.0,204.1 167.0,203.9 168.5,203.7C170.0,203.4 171.7,203.2 173.6,203.0C175.5,202.8 177.3,202.7 180.0,202.6C182.7,202.5 185.0,202.5 190.0,202.4C195.0,202.3 205.5,202.3 210.0,202.2C214.5,202.1 215.3,202.1 217.0,202.0C218.7,201.9 219.2,201.8 220.0,201.5C220.8,201.2 221.3,200.9 221.7,200.5C222.1,200.1 222.4,199.8 222.6,198.8C222.8,197.9 222.9,195.5 223.0,194.8" stroke="#2c9a3c" stroke-width="0.90" fill="none" stroke-linejoin="round"/>
<path d="M172.7,232.4 H186.6" stroke="#222222" stroke-width="0.9"/>
<text x="189.4" y="234.7" font-size="6.6" class="lg" fill="#161616">Blank</text>
<path d="M172.7,240.6 H186.6" stroke="#e8323c" stroke-width="0.9"/>
<text x="189.4" y="242.9" font-size="6.6" class="lg" fill="#161616">20 <tspan font-size="5.8" dx="0.5">µ</tspan>M</text>
<path d="M172.7,249.0 H186.6" stroke="#3a3ae0" stroke-width="1.2"/>
<text x="189.4" y="251.3" font-size="6.6" class="lg" fill="#161616">50 <tspan font-size="5.8" dx="0.5">µ</tspan>M</text>
<path d="M172.7,257.3 H186.6" stroke="#2a9696" stroke-width="0.9"/>
<text x="189.4" y="259.6" font-size="6.6" class="lg" fill="#161616">100 <tspan font-size="5.8" dx="0.5">µ</tspan>M</text>
<path d="M172.7,265.6 H186.6" stroke="#e83ce8" stroke-width="0.9"/>
<text x="189.4" y="267.9" font-size="6.6" class="lg" fill="#161616">200 <tspan font-size="5.8" dx="0.5">µ</tspan>M</text>
<path d="M172.7,273.7 H186.6" stroke="#9a9a28" stroke-width="0.9"/>
<text x="189.4" y="276.0" font-size="6.6" class="lg" fill="#161616">500 <tspan font-size="5.8" dx="0.5">µ</tspan>M</text>
<path d="M172.7,282.0 H186.6" stroke="#3838b0" stroke-width="0.9"/>
<text x="189.4" y="284.3" font-size="6.6" class="lg" fill="#161616">1000 <tspan font-size="5.8" dx="0.5">µ</tspan>M</text>
<path d="M172.7,290.3 H186.6" stroke="#a83c3c" stroke-width="0.9"/>
<text x="189.4" y="292.6" font-size="6.6" class="lg" fill="#161616">2000 <tspan font-size="5.8" dx="0.5">µ</tspan>M</text>
<path d="M172.7,298.4 H186.6" stroke="#f0329a" stroke-width="0.9"/>
<text x="189.4" y="300.7" font-size="6.6" class="lg" fill="#161616">4000 <tspan font-size="5.8" dx="0.5">µ</tspan>M</text>
<path d="M172.7,306.5 H186.6" stroke="#2c9a3c" stroke-width="0.9"/>
<text x="189.4" y="308.8" font-size="6.6" class="lg" fill="#161616">6000 <tspan font-size="5.8" dx="0.5">µ</tspan>M</text>
<text x="213.3" y="211.2" font-size="7.8" font-weight="bold" fill="#161616" text-anchor="middle">(c)</text>
<g font-size="11.0" fill="#161616">
<text x="76.3" y="352.6">Potential vs SCE</text>
<text x="169.6" y="352.6" text-anchor="middle">/</text>
<text x="181.0" y="352.6">V</text>
</g>
<g font-size="10.9" fill="#161616">
<text transform="translate(14.0,327.6) rotate(-90)">Current Density (j)</text>
<text transform="translate(14.0,228.6) rotate(-90)" text-anchor="middle">/</text>
<text transform="translate(14.0,218.8) rotate(-90)"><tspan font-size="7.8">µ</tspan><tspan font-size="11.5">A cm</tspan><tspan font-size="7" dy="-6.8" dx="-0.9">-2</tspan></text>
</g>
<path d="M369.9,327.9C370.2,326.2 371.3,321.3 372.0,318.0C372.7,314.7 373.3,311.3 374.0,308.0C374.7,304.7 375.3,301.2 376.0,298.0C376.7,294.8 377.3,292.0 378.0,289.0C378.7,286.0 379.3,282.8 380.0,280.0C380.7,277.2 381.3,274.3 382.0,272.0C382.7,269.7 383.3,268.0 384.0,266.0C384.7,264.0 385.6,261.9 386.4,260.0C387.1,258.1 387.8,256.0 388.5,254.5C389.2,253.0 389.8,252.1 390.5,251.0C391.2,249.9 391.9,248.9 393.0,248.0C394.1,247.1 395.7,246.2 397.0,245.6C398.3,245.0 399.3,244.7 401.0,244.4C402.7,244.1 405.0,243.9 407.0,243.6C409.0,243.3 411.0,243.0 413.0,242.4C415.0,241.8 417.0,240.8 419.0,240.0C421.0,239.2 423.0,238.2 425.0,237.4C427.0,236.6 429.0,235.8 431.0,235.2C433.0,234.6 435.0,234.2 437.0,233.8C439.0,233.4 441.0,232.9 443.0,232.6C445.0,232.3 447.3,232.0 449.0,231.8C450.7,231.6 451.8,231.6 453.0,231.5C454.2,231.4 455.2,231.2 456.0,231.0C456.8,230.8 457.2,230.5 458.0,230.0C458.8,229.5 460.0,228.8 461.0,228.2C462.0,227.6 462.5,227.0 464.0,226.2C465.5,225.4 468.0,224.2 470.0,223.6C472.0,223.0 473.7,222.7 476.0,222.4C478.3,222.1 480.7,221.8 484.0,221.6C487.3,221.4 490.0,221.4 496.0,221.4C502.0,221.4 514.7,221.5 520.0,221.4C525.3,221.3 525.7,221.1 528.0,220.8C530.3,220.5 532.3,220.1 534.0,219.6C535.7,219.1 536.9,218.5 538.0,217.6C539.1,216.7 539.9,215.6 540.6,214.0C541.3,212.4 541.7,211.0 542.0,208.0C542.3,205.0 542.2,198.0 542.2,196.0" stroke="#222222" stroke-width="0.90" fill="none" stroke-linejoin="round"/>
<path d="M373.0,327.9C373.3,326.1 374.3,320.5 375.0,317.0C375.7,313.5 376.3,310.2 377.0,307.0C377.7,303.8 378.2,301.2 379.0,298.0C379.8,294.8 381.0,290.8 382.0,288.0C383.0,285.2 384.0,282.8 385.0,281.0C386.0,279.2 387.0,278.1 388.0,277.0C389.0,275.9 389.8,275.2 391.0,274.6C392.2,274.0 393.7,273.8 395.0,273.6C396.3,273.4 397.5,273.4 399.0,273.6C400.5,273.8 402.3,274.3 404.0,274.6C405.7,274.9 407.5,275.2 409.0,275.2C410.5,275.2 411.7,275.1 413.0,274.6C414.3,274.1 415.7,273.3 417.0,272.4C418.3,271.5 419.7,270.2 421.0,269.0C422.3,267.8 423.7,266.6 425.0,265.4C426.3,264.2 427.8,262.9 429.0,262.0C430.2,261.1 431.0,260.7 432.0,260.0C433.0,259.3 433.8,258.8 435.0,258.0C436.2,257.2 437.7,255.8 439.0,255.0C440.3,254.2 441.7,253.4 443.0,253.0C444.3,252.6 445.7,252.4 447.0,252.4C448.3,252.4 449.8,252.9 451.0,253.2C452.2,253.5 453.2,254.1 454.0,254.0C454.8,253.9 455.2,253.4 456.0,252.4C456.8,251.4 458.0,249.7 459.0,248.0C460.0,246.3 461.0,244.3 462.0,242.5C463.0,240.7 464.0,238.8 465.0,237.2C466.0,235.5 466.8,234.1 468.0,232.6C469.2,231.1 470.7,229.3 472.0,228.0C473.3,226.7 474.7,225.8 476.0,225.0C477.3,224.2 478.3,223.7 480.0,223.2C481.7,222.7 483.7,222.3 486.0,222.0C488.3,221.7 488.3,221.7 494.0,221.6C499.7,221.5 514.0,221.5 520.0,221.4C526.0,221.3 527.3,221.2 530.0,221.0C532.7,220.8 534.3,220.5 536.0,220.0C537.7,219.5 539.0,218.7 540.0,218.0C541.0,217.3 541.7,216.3 542.0,216.0" stroke="#e8323c" stroke-width="0.90" fill="none" stroke-linejoin="round"/>
<path d="M372.6,327.9C372.9,326.1 374.0,320.4 374.7,317.0C375.5,313.6 376.3,310.3 377.0,307.3C377.7,304.3 378.2,301.8 379.0,298.8C379.8,295.9 381.0,292.2 382.0,289.5C383.0,286.9 384.0,284.8 385.0,283.1C386.0,281.4 387.0,280.5 388.0,279.5C389.0,278.6 389.8,277.9 391.0,277.4C392.2,276.9 393.7,276.6 395.0,276.4C396.3,276.2 397.5,276.2 399.0,276.2C400.5,276.3 402.3,276.5 404.0,276.8C405.7,277.0 407.5,277.6 409.0,277.6C410.5,277.6 411.7,277.3 413.0,276.6C414.3,276.0 415.7,275.0 417.0,273.8C418.3,272.7 419.7,271.1 421.0,269.7C422.3,268.4 423.7,266.9 425.0,265.6C426.3,264.4 427.8,262.9 429.0,262.0C430.2,261.1 431.0,261.0 432.0,260.4C433.0,259.7 433.8,259.2 435.0,258.4C436.2,257.5 437.7,256.2 439.0,255.3C440.3,254.5 441.7,253.8 443.0,253.3C444.3,252.9 445.7,252.7 447.0,252.8C448.3,252.8 449.8,253.3 451.0,253.5C452.2,253.8 453.2,254.5 454.0,254.3C454.8,254.2 455.2,253.8 456.0,252.8C456.8,251.8 458.0,250.0 459.0,248.3C460.0,246.7 461.0,244.7 462.0,242.8C463.0,241.0 464.0,239.2 465.0,237.5C466.0,235.9 466.8,234.5 468.0,232.9C469.2,231.4 470.7,229.3 472.0,228.0C473.3,226.7 474.7,225.8 476.0,225.0C477.3,224.2 478.3,223.7 480.0,223.2C481.7,222.7 483.7,222.3 486.0,222.0C488.3,221.7 488.3,221.7 494.0,221.6C499.7,221.5 514.0,221.5 520.0,221.4C526.0,221.3 527.3,221.2 530.0,221.0C532.7,220.8 534.3,220.5 536.0,220.0C537.7,219.5 539.0,219.3 540.0,218.0C541.0,216.7 541.7,213.0 542.0,212.0" stroke="#3a3ae0" stroke-width="0.90" fill="none" stroke-linejoin="round"/>
<path d="M372.3,327.9C372.7,326.1 373.7,320.4 374.5,317.0C375.3,313.6 376.3,310.4 377.0,307.4C377.7,304.5 378.2,302.2 379.0,299.3C379.8,296.5 381.0,292.9 382.0,290.4C383.0,287.9 384.0,285.9 385.0,284.3C386.0,282.7 387.0,281.8 388.0,281.0C389.0,280.1 389.8,279.5 391.0,279.0C392.2,278.5 393.7,278.2 395.0,278.0C396.3,277.8 397.5,277.9 399.0,278.0C400.5,278.1 402.3,278.3 404.0,278.6C405.7,278.8 407.5,279.6 409.0,279.6C410.5,279.6 411.7,279.1 413.0,278.3C414.3,277.6 415.7,276.4 417.0,275.0C418.3,273.7 419.7,271.9 421.0,270.3C422.3,268.8 423.7,267.2 425.0,265.8C426.3,264.5 427.8,262.9 429.0,262.0C430.2,261.1 431.0,261.2 432.0,260.6C433.0,260.0 433.8,259.4 435.0,258.6C436.2,257.8 437.7,256.4 439.0,255.6C440.3,254.8 441.7,254.0 443.0,253.6C444.3,253.2 445.7,253.0 447.0,253.0C448.3,253.0 449.8,253.5 451.0,253.8C452.2,254.1 453.2,254.7 454.0,254.6C454.8,254.5 455.2,254.0 456.0,253.0C456.8,252.0 458.0,250.2 459.0,248.6C460.0,246.9 461.0,244.9 462.0,243.1C463.0,241.3 464.0,239.4 465.0,237.8C466.0,236.1 466.8,234.8 468.0,233.2C469.2,231.6 470.7,229.4 472.0,228.0C473.3,226.6 474.7,225.8 476.0,225.0C477.3,224.2 478.3,223.7 480.0,223.2C481.7,222.7 483.7,222.3 486.0,222.0C488.3,221.7 488.3,221.7 494.0,221.6C499.7,221.5 514.0,221.5 520.0,221.4C526.0,221.3 527.3,221.2 530.0,221.0C532.7,220.8 534.3,220.5 536.0,220.0C537.7,219.5 539.0,219.3 540.0,218.0C541.0,216.7 541.7,213.0 542.0,212.0" stroke="#2a9696" stroke-width="0.90" fill="none" stroke-linejoin="round"/>
<path d="M373.3,327.9C373.6,326.1 374.6,320.3 375.2,317.0C375.8,313.7 376.4,310.8 377.0,308.0C377.6,305.2 378.2,302.7 379.0,300.0C379.8,297.3 381.0,294.2 382.0,292.0C383.0,289.8 384.0,288.4 385.0,287.0C386.0,285.6 387.0,284.4 388.0,283.6C389.0,282.8 389.8,282.3 391.0,282.0C392.2,281.7 393.7,281.7 395.0,282.0C396.3,282.3 397.7,283.1 399.0,283.6C400.3,284.1 401.7,284.7 403.0,285.0C404.3,285.3 405.7,285.5 407.0,285.2C408.3,284.9 409.7,284.4 411.0,283.4C412.3,282.4 413.7,280.9 415.0,279.4C416.3,277.9 417.7,276.2 419.0,274.6C420.3,273.0 421.7,271.4 423.0,270.0C424.3,268.6 426.0,267.1 427.0,266.0C428.0,264.9 428.2,264.6 429.0,263.6C429.8,262.6 431.0,260.9 432.0,260.0C433.0,259.1 433.8,258.8 435.0,258.0C436.2,257.2 437.7,255.8 439.0,255.0C440.3,254.2 441.7,253.4 443.0,253.0C444.3,252.6 445.7,252.4 447.0,252.4C448.3,252.4 449.8,252.9 451.0,253.2C452.2,253.5 453.2,254.1 454.0,254.0C454.8,253.9 455.2,253.4 456.0,252.4C456.8,251.4 458.0,249.7 459.0,248.0C460.0,246.3 461.0,244.3 462.0,242.5C463.0,240.7 464.0,238.8 465.0,237.2C466.0,235.5 466.8,234.1 468.0,232.6C469.2,231.1 470.7,229.3 472.0,228.0C473.3,226.7 474.7,225.8 476.0,225.0C477.3,224.2 478.3,223.7 480.0,223.2C481.7,222.7 483.7,222.3 486.0,222.0C488.3,221.7 488.3,221.7 494.0,221.6C499.7,221.5 514.0,221.5 520.0,221.4C526.0,221.3 527.3,221.2 530.0,221.0C532.7,220.8 534.3,220.5 536.0,220.0C537.7,219.5 539.0,219.3 540.0,218.0C541.0,216.7 541.7,213.0 542.0,212.0" stroke="#e83ce8" stroke-width="0.90" fill="none" stroke-linejoin="round"/>
<path d="M370.5,327.9C370.9,326.2 372.2,320.8 373.0,318.0C373.8,315.2 374.2,313.3 375.0,311.0C375.8,308.7 377.0,305.8 378.0,304.0C379.0,302.2 380.0,300.9 381.0,300.0C382.0,299.1 383.0,298.7 384.0,298.4C385.0,298.1 385.8,297.8 387.0,298.0C388.2,298.2 389.7,298.9 391.0,299.6C392.3,300.3 393.7,301.5 395.0,302.4C396.3,303.3 397.7,304.4 399.0,305.0C400.3,305.6 401.8,305.9 403.0,306.0C404.2,306.1 405.0,306.0 406.0,305.6C407.0,305.2 408.1,304.4 409.0,303.6C409.9,302.8 410.1,302.4 411.1,301.0C412.1,299.6 413.7,297.1 415.0,295.2C416.3,293.3 417.7,291.2 418.8,289.4C419.9,287.6 420.6,286.0 421.5,284.4C422.4,282.8 423.4,281.1 424.3,279.5C425.2,277.9 426.1,276.4 427.0,275.0C427.9,273.6 428.9,272.1 429.8,270.8C430.7,269.5 431.5,268.4 432.4,267.3C433.3,266.2 434.1,265.2 435.0,264.2C435.9,263.1 437.0,262.0 438.0,261.0C439.0,260.0 440.0,258.9 441.0,258.0C442.0,257.1 442.8,256.3 444.0,255.6C445.2,254.9 446.7,254.2 448.0,254.0C449.3,253.8 450.9,254.5 452.0,254.6C453.1,254.7 453.8,255.1 454.5,254.8C455.2,254.5 455.8,254.0 456.5,253.0C457.2,252.0 458.1,250.3 459.0,248.6C459.9,246.9 461.0,244.8 462.0,243.0C463.0,241.2 464.0,239.3 465.0,237.6C466.0,235.9 466.8,234.5 468.0,233.0C469.2,231.5 470.7,229.7 472.0,228.4C473.3,227.1 474.7,226.0 476.0,225.2C477.3,224.4 478.3,223.9 480.0,223.4C481.7,222.9 483.7,222.4 486.0,222.1C488.3,221.8 488.3,221.7 494.0,221.6C499.7,221.5 514.0,221.5 520.0,221.4C526.0,221.3 527.3,221.1 530.0,220.8C532.7,220.5 534.3,220.2 536.0,219.6C537.7,219.0 539.0,220.9 540.0,217.0C541.0,213.1 541.7,199.5 542.0,196.0" stroke="#9a9a28" stroke-width="0.90" fill="none" stroke-linejoin="round"/>
<path d="M493,276.2 H507.2" stroke="#222222" stroke-width="0.9"/>
<text x="509.7" y="278.5" font-size="6.6" class="lg" fill="#161616">Blank</text>
<path d="M493,284.4 H507.2" stroke="#e8323c" stroke-width="0.9"/>
<text x="509.7" y="286.7" font-size="6.6" class="lg" fill="#161616">20 <tspan font-size="5.8" dx="0.5">µ</tspan>M</text>
<path d="M493,292.7 H507.2" stroke="#3a3ae0" stroke-width="0.9"/>
<text x="509.7" y="295.0" font-size="6.6" class="lg" fill="#161616">50 <tspan font-size="5.8" dx="0.5">µ</tspan>M</text>
<path d="M493,301.0 H507.2" stroke="#2a9696" stroke-width="0.9"/>
<text x="509.7" y="303.3" font-size="6.6" class="lg" fill="#161616">100 <tspan font-size="5.8" dx="0.5">µ</tspan>M</text>
<path d="M493,309.2 H507.2" stroke="#e83ce8" stroke-width="0.9"/>
<text x="509.7" y="311.5" font-size="6.6" class="lg" fill="#161616">200 <tspan font-size="5.8" dx="0.5">µ</tspan>M</text>
<path d="M493,317.5 H507.2" stroke="#9a9a28" stroke-width="0.9"/>
<text x="509.7" y="319.8" font-size="6.6" class="lg" fill="#161616">500 <tspan font-size="5.8" dx="0.5">µ</tspan>M</text>
<text x="533.4" y="205.5" font-size="7.3" font-weight="bold" fill="#161616" text-anchor="middle">(d)</text>
<g font-size="10.9" fill="#161616">
<text x="403.0" y="172.5">Potential vs SCE</text>
<text x="492.4" y="172.5" text-anchor="middle">/</text>
<text x="500.5" y="172.5">V</text>
</g>
<g font-size="10.55" fill="#161616">
<text transform="translate(330.6,147.0) rotate(-90)">Current density (j)</text>
<text transform="translate(330.6,56.4) rotate(-90)" text-anchor="middle">/</text>
<text transform="translate(330.6,48.8) rotate(-90)"><tspan font-size="7.6">µ</tspan><tspan font-size="11.1">A cm</tspan><tspan font-size="7" dy="-6.8" dx="-0.9">-2</tspan></text>
</g>
<g font-size="11.0" fill="#161616">
<text x="395.5" y="352.5">Potential vs SCE</text>
<text x="489.1" y="352.5" text-anchor="middle">/</text>
<text x="500.1" y="352.5">V</text>
</g>
<g font-size="10.9" fill="#161616">
<text transform="translate(333.0,328.0) rotate(-90)">Current Density (j)</text>
<text transform="translate(333.0,229.0) rotate(-90)" text-anchor="middle">/</text>
<text transform="translate(333.0,219.4) rotate(-90)"><tspan font-size="7.8">µ</tspan><tspan font-size="11.5">A cm</tspan><tspan font-size="7" dy="-6.8" dx="-0.9">-2</tspan></text>
</g>
</svg>
</body></html>
